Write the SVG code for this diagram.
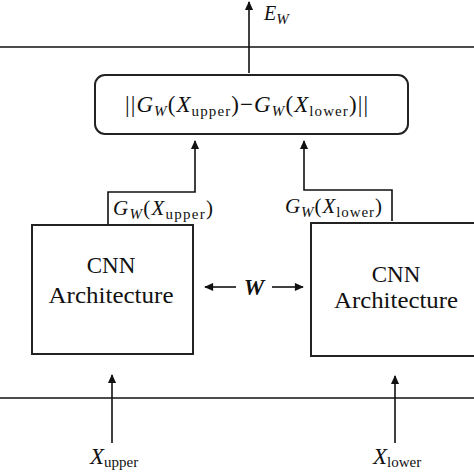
<svg xmlns="http://www.w3.org/2000/svg" width="474" height="474" viewBox="0 0 474 474">
<style>
.ln{stroke:#111;stroke-width:1.6;fill:none}
.bx{stroke:#222;stroke-width:2;fill:#fff}
.t{font-family:'Liberation Serif','Times New Roman','DejaVu Serif',serif;fill:#111}
.m{font-style:italic}
.s{font-size:15px;font-style:normal}
.sm{font-size:15px;font-style:italic}
</style>
<defs>
<marker id="ah2" viewBox="0 0 10 10" refX="9" refY="5" markerWidth="10" markerHeight="9" markerUnits="userSpaceOnUse" orient="auto-start-reverse">
<path d="M0,0.5 L10,5 L0,9.5 Z" fill="#111"/>
</marker>
</defs>
<g id="connectors">
<line class="ln" x1="0" y1="47" x2="474" y2="47"/>
<line class="ln" x1="0" y1="398" x2="474" y2="398"/>
<line class="ln" x1="249" y1="73" x2="249" y2="2" marker-end="url(#ah2)"/>
<polyline class="ln" points="108,224 108,192 195,192 195,141" marker-end="url(#ah2)"/>
<polyline class="ln" points="392,221 392,190 304,190 304,141" marker-end="url(#ah2)"/>
<line class="ln" x1="112" y1="443" x2="112" y2="375" marker-end="url(#ah2)"/>
<line class="ln" x1="395" y1="443" x2="395" y2="376" marker-end="url(#ah2)"/>
<line class="ln" x1="205" y1="287" x2="236" y2="287" marker-start="url(#ah2)"/>
<line class="ln" x1="272" y1="287" x2="303" y2="287" marker-end="url(#ah2)"/>
</g>
<g id="ew"><text class="t m" x="264" y="20" font-size="20">E<tspan class="sm" dy="4">W</tspan></text></g>
<g id="dist">
<rect class="bx" x="95" y="75" width="313" height="59" rx="10"/>
<text class="t" x="125" y="112" font-size="23" textLength="243" lengthAdjust="spacing">||<tspan class="m">G</tspan><tspan class="sm" dy="4">W</tspan><tspan dy="-4">(</tspan><tspan class="m">X</tspan><tspan class="s" dy="4">upper</tspan><tspan dy="-4">)−</tspan><tspan class="m">G</tspan><tspan class="sm" dy="4">W</tspan><tspan dy="-4">(</tspan><tspan class="m">X</tspan><tspan class="s" dy="4">lower</tspan><tspan dy="-4">)||</tspan></text>
</g>
<g id="gu"><text class="t" x="113" y="215" font-size="21" textLength="100" lengthAdjust="spacing"><tspan class="m">G</tspan><tspan class="sm" dy="4">W</tspan><tspan dy="-4">(</tspan><tspan class="m">X</tspan><tspan class="s" dy="4">upper</tspan><tspan dy="-4">)</tspan></text></g>
<g id="gl"><text class="t" x="285" y="213" font-size="21" textLength="97" lengthAdjust="spacing"><tspan class="m">G</tspan><tspan class="sm" dy="4">W</tspan><tspan dy="-4">(</tspan><tspan class="m">X</tspan><tspan class="s" dy="4">lower</tspan><tspan dy="-4">)</tspan></text></g>
<g id="cnn1">
<rect class="bx" x="32" y="225" width="161" height="129"/>
<text class="t" x="111" y="273" font-size="23" text-anchor="middle">CNN</text>
<text class="t" x="111" y="303" font-size="24" text-anchor="middle" textLength="125" lengthAdjust="spacingAndGlyphs">Architecture</text>
</g>
<g id="cnn2">
<rect class="bx" x="311" y="223" width="170" height="133"/>
<text class="t" x="396" y="282" font-size="23" text-anchor="middle">CNN</text>
<text class="t" x="396" y="308" font-size="24" text-anchor="middle" textLength="124" lengthAdjust="spacingAndGlyphs">Architecture</text>
</g>
<g id="w"><text class="t" x="254" y="295" font-size="23" font-weight="bold" font-style="italic" text-anchor="middle">W</text></g>
<g id="xu"><text class="t m" x="90" y="464" font-size="23">X<tspan class="s" dy="3">upper</tspan></text></g>
<g id="xl"><text class="t m" x="373" y="464" font-size="23">X<tspan class="s" dy="3">lower</tspan></text></g>
</svg>
